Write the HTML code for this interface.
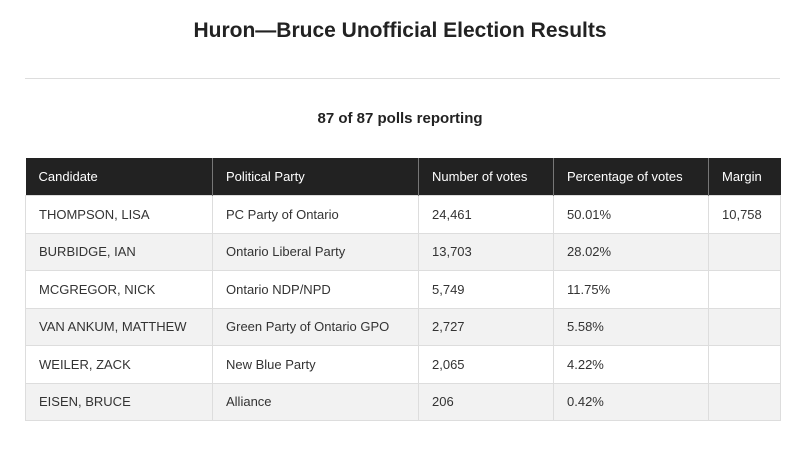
<!DOCTYPE html>
<html><head><style>
body{margin:0;width:800px;height:450px;background:#fff;font-family:"Liberation Sans",sans-serif;color:#222;position:relative;overflow:hidden}
h1{position:absolute;top:19px;left:0;width:800px;text-align:center;margin:0;font-size:21px;font-weight:bold;color:#222}
.hr{position:absolute;top:78px;left:25px;width:755px;height:1px;background:#ddd}
h2{position:absolute;top:110px;left:0;width:800px;text-align:center;margin:0;font-size:15px;font-weight:bold;color:#222}
table{position:absolute;top:158px;left:25px;width:756px;border-collapse:collapse;font-size:13px;table-layout:fixed}
th{background:#222;color:#fff;font-weight:normal;text-align:left;height:37px;padding:0 0 0 13px;border-right:1px solid #777}
td{height:36.5px;padding:0 0 0 13px;border:1px solid #ddd;color:#333}
tr:nth-child(odd) td{background:#f2f2f2}
</style></head><body>
<h1>Huron—Bruce Unofficial Election Results</h1>
<div class="hr"></div>
<h2>87 of 87 polls reporting</h2>
<table>
<colgroup><col style="width:187px"><col style="width:206px"><col style="width:135px"><col style="width:155px"><col></colgroup>
<tr><th>Candidate</th><th>Political Party</th><th>Number of votes</th><th>Percentage of votes</th><th style="border-right:none">Margin</th></tr>
<tr><td>THOMPSON, LISA</td><td>PC Party of Ontario</td><td>24,461</td><td>50.01%</td><td>10,758</td></tr>
<tr><td>BURBIDGE, IAN</td><td>Ontario Liberal Party</td><td>13,703</td><td>28.02%</td><td></td></tr>
<tr><td>MCGREGOR, NICK</td><td>Ontario NDP/NPD</td><td>5,749</td><td>11.75%</td><td></td></tr>
<tr><td>VAN ANKUM, MATTHEW</td><td>Green Party of Ontario GPO</td><td>2,727</td><td>5.58%</td><td></td></tr>
<tr><td>WEILER, ZACK</td><td>New Blue Party</td><td>2,065</td><td>4.22%</td><td></td></tr>
<tr><td>EISEN, BRUCE</td><td>Alliance</td><td>206</td><td>0.42%</td><td></td></tr>
</table>
</body></html>
